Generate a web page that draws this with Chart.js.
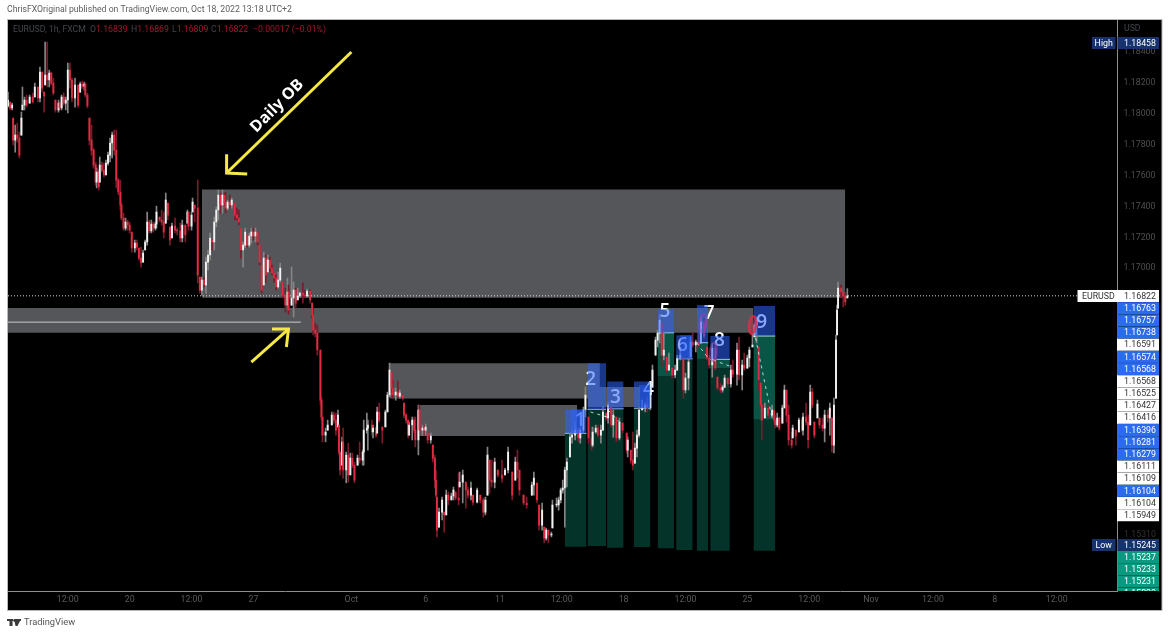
<!DOCTYPE html>
<html><head><meta charset="utf-8">
<style>html,body{margin:0;padding:0;background:#fff;overflow:hidden}canvas{display:block;filter:blur(.3px)}</style>
<script src="https://cdn.jsdelivr.net/npm/chart.js@4"></script>
</head><body><canvas id="c" width="1170" height="636"></canvas>
<script>
// ---- series values: trading-hour index, and prices stored as points above 1.15000
const PRICE_BASE = 1.15;
const hours = [0,2,4,5,7,9,11,13,14,16,18,21,24,26,29,31,33,35,36,38,40,42,44,46,49,50,52,54,56,58,60,62,65,68,70,72,74,75,77,79,81,83,85,86,88,89,91,93,95,97,99,101,103,105,107,
109,110,112,114,116,118,120,123,125,127,129,131,133,135,137,139,141,143,144,147,149,151,153,155,157,159,162,164,167,169,172,174,175,178,179,181,184,186,188,190,192,194,196,198,200,202,204,206,208,210,
211,213,215,217,220,222,224,226,228,230,232,234,236,238,240,242,244,246,248,250,252,254,256,258,260,262,264,266,269,271,272,275,277,279,281,283,286,288,290,293,295,296,298,300,303,304,305,
308,310,314,316,318,320,321,322,324,325,328,330,332,334,336,339,341,344,345,348,349,353,354,357,358,360,363,366,368,370,372,373,376,378,380,383,384,386,388,389,392,394,395,398,399,402,404,405,407,410,412,414,415,
416,418,421,423,425,427,430,432,434,437,438,441,444,446,449,451,455,458,461,463,465,467,469,472,475,479,482,485,489,492,494,496,500,503,508,510,513,515,518,520,522,524,527,528,532,534,536,538,540,
542,545,547,550,553,555,558,560,563,566,567,570,572,575,577,580,582,585,587,590,593,596,600,601,604,606,608,610,612,615,618,620,623,625,628,630,632,634,636,639,641,644,647,649,652,655,657,660,662,664,667,670,672,675,678,680,683,686,688,691,693,695,698,701,703,707,709,712,714,717,719,722,724,726,728,730,731,734,737,741,743,
744,746,748,751,753,755,757,760,761,764,767,770,771,774,776,778,780,782,785,787,790,792,795,797,799,801,803,804,805,808,810,812,814];
const highs = [3139,3075,3068,2971,2926,2939,2881,3010,3172,3107,3120,3120,3133,3197,3172,3301,3269,3139,3462,3462,3282,3269,3230,3088,3088,3075,3120,3133,3107,3327,3327,3230,3230,3185,3204,3210,3204,3197,3133,2971,2926,2777,2687,2648,2635,2719,2687,2680,2700,2751,2842,2881,2894,2894,2583,
2570,2422,2357,2325,2312,2299,2234,2183,2183,2131,2137,2118,2183,2364,2312,2312,2299,2299,2402,2331,2377,2364,2486,2422,2267,2292,2325,2260,2292,2312,2280,2377,2364,2364,2454,2409,2570,1943,1943,1943,2073,2118,2228,2183,2331,2396,2506,2486,2506,2486,
2493,2441,2474,2454,2422,2389,2377,2260,2170,2260,2215,2228,2260,2260,2260,2234,2150,2021,2105,2086,2086,2073,2021,1969,1956,1976,2034,1911,1872,1937,1892,2008,1911,1872,1872,1847,1905,1859,1866,1859,1775,1743,1646,1633,1472,1168,1039,
967,1019,1071,1071,1064,1084,987,812,909,967,812,870,806,806,748,793,877,825,1019,1064,1019,1019,987,974,1103,1129,974,1084,1200,1388,1329,1278,1226,1271,1213,1181,1129,1064,1019,1006,1039,1039,1039,1116,1116,987,987,993,935,935,857,793,696,
521,450,521,424,567,554,547,586,554,677,683,696,618,586,618,534,580,534,515,521,845,760,760,773,696,760,709,845,683,780,825,696,534,521,618,683,612,470,483,327,321,308,295,502,515,521,580,631,715,
773,935,954,999,967,974,1103,1232,1039,974,974,987,987,987,1103,1064,1135,1103,1084,1039,1032,999,935,909,825,942,870,954,1103,1148,1129,1168,1213,1375,1556,1601,1698,1646,1588,1426,1452,1355,1375,1439,1491,1420,1323,1420,1556,1581,1536,1581,1685,1678,1491,1439,1517,1517,1297,1258,1245,1310,1291,1375,1407,1517,1556,1407,1452,1439,1491,1581,1646,1685,1491,1258,1129,1129,1116,1116,1084,
1051,1064,1039,1116,1245,1213,1116,942,987,954,1032,1032,1064,1129,1051,1245,1226,1006,1148,1032,1032,1084,1084,1129,1032,1161,1569,1762,1911,1892,1847,1847,1869];
const lows = [3042,3023,3023,2797,2751,2816,2713,2861,3023,3023,3042,3068,3068,3107,3075,3075,3139,3010,3185,3172,3172,3185,3120,3010,3010,3023,3023,3055,3023,3004,3165,3075,3042,3042,3139,3165,3152,3107,3036,2797,2732,2648,2538,2519,2506,2557,2622,2590,2603,2667,2687,2713,2732,2519,2474,
2377,2312,2247,2247,2247,2228,2105,2105,2118,2053,2008,2040,2118,2150,2228,2228,2234,2247,2260,2299,2280,2196,2292,2312,2150,2196,2228,2215,2170,2170,2170,2292,2247,2247,2364,2299,1905,1840,1827,1879,1840,1989,2053,2118,2118,2267,2312,2357,2357,2409,
2357,2377,2389,2389,2312,2312,2280,2066,2008,2131,2137,2137,2163,2183,2170,2150,2021,1840,1892,1911,1976,1976,1956,1911,1859,1872,1911,1808,1717,1743,1704,1762,1685,1743,1795,1814,1775,1808,1814,1775,1678,1569,1556,1439,1116,1019,877,
877,954,987,999,922,974,793,664,728,644,612,618,664,709,612,728,741,728,728,935,825,922,903,909,935,1006,870,974,1071,1168,1200,1161,1148,1161,1161,1148,1032,999,903,922,890,935,845,793,922,922,922,922,870,870,748,580,521,
263,327,373,295,405,470,502,502,502,470,586,483,450,515,502,470,483,483,392,405,534,547,586,580,651,618,664,677,502,631,644,534,470,450,534,534,483,308,308,224,243,224,263,321,457,437,483,547,327,
586,780,870,890,877,870,935,1039,870,825,845,935,909,870,954,1019,999,974,909,877,890,935,806,780,741,696,741,780,909,1084,1071,1071,1084,1232,1439,1491,1517,1362,1407,1323,1342,1291,1291,1342,1407,1161,1194,1213,1426,1491,1459,1491,1517,1549,1407,1355,1297,1342,1213,1194,1200,1226,1232,1232,1297,1245,1278,1213,1342,1355,1362,1491,1556,1517,1213,1103,890,1032,1032,1032,999,
967,974,954,999,1097,1006,857,838,903,857,942,942,922,987,838,987,1097,903,1032,967,948,877,1006,922,812,806,1161,1569,1743,1808,1750,1762,1809];
const closes = [3088,3036,3055,2829,2861,2842,2732,2971,3055,3088,3055,3107,3075,3172,3101,3269,3165,3114,3249,3217,3262,3197,3133,3023,3068,3036,3107,3068,3088,3282,3217,3101,3185,3055,3191,3178,3191,3120,3049,2829,2764,2667,2557,2622,2526,2667,2635,2603,2680,2732,2810,2861,2764,2570,2493,
2409,2325,2260,2299,2280,2247,2131,2163,2137,2066,2034,2099,2170,2299,2241,2286,2260,2286,2364,2312,2299,2234,2441,2344,2183,2273,2247,2241,2196,2280,2215,2364,2273,2344,2428,2389,1956,1859,1924,1892,2040,2086,2196,2170,2299,2377,2474,2409,2474,2422,
2389,2428,2409,2441,2344,2325,2299,2118,2150,2234,2150,2209,2234,2209,2234,2170,2040,1859,2066,1956,2053,2002,1969,1937,1879,1924,2002,1827,1762,1847,1730,1808,1859,1775,1821,1840,1827,1821,1853,1795,1698,1601,1581,1472,1148,1039,922,
942,987,1051,1019,954,1051,812,696,877,696,793,664,773,728,631,773,760,812,954,967,987,942,967,922,1071,1019,954,1071,1181,1342,1226,1181,1200,1174,1194,1161,1051,1019,922,987,1019,954,890,1084,954,967,954,974,890,916,773,631,534,
308,424,502,405,534,502,528,567,515,502,618,664,567,534,580,489,567,502,424,502,793,631,618,748,664,644,696,812,534,748,696,567,483,470,599,644,502,340,437,256,308,276,282,470,470,502,567,580,696,
748,909,922,954,903,954,1084,1181,903,857,942,967,922,954,1071,1032,1116,987,1051,903,1006,954,825,890,760,728,838,922,1084,1097,1116,1097,1194,1342,1536,1581,1666,1439,1472,1342,1375,1310,1342,1420,1439,1213,1291,1394,1523,1504,1523,1504,1653,1562,1420,1375,1485,1355,1226,1213,1232,1291,1252,1342,1316,1472,1310,1375,1355,1420,1472,1504,1633,1666,1278,1116,1019,1097,1051,1084,1019,
987,1032,967,1097,1213,1051,890,857,967,916,1019,954,1039,1006,890,1200,1116,922,1122,987,967,1051,1032,1097,857,1116,1536,1730,1872,1847,1821,1782,1822];

// ---- axes
const priceTicks = [1.184,1.182,1.18,1.178,1.176,1.174,1.172,1.17];
const timeTickHours = [58,118,178,238,333,405,477,537,597,657,717,777,837,897,957,1017];
const timeTickLabels = ['12:00','20','12:00','27','Oct','6','11','12:00','18','12:00','25','12:00','Nov','12:00','8','12:00'];
const lastPrice = 1.16822;

// ---- grey supply zones
const zoneStart = [188,0,370,562,398];
const zoneEnd   = [812,723,574,613,552];
const zoneTop   = [1.1751,1.16743,1.16386,1.16232,1.16116];
const zoneLow   = [1.1681,1.16583,1.16159,1.16103,1.15916];
const markerLine = {hours:[0,284], price:1.16652};

// ---- green columns and blue boxes sitting on them
const colStart = [540,562,581,607,630,648,668,681,723];
const colEnd   = [561,580,597,623,646,664,679,700,744];
const colTop   = [1.15933,1.16088,1.16092,1.16095,1.16583,1.16415,1.16519,1.16411,1.16562];
const colLight = [1.15933,1.16088,1.16092,1.16095,1.16304,1.16415,1.16415,1.16355,1.16024];
const colBottom= [1.152,1.15205,1.15194,1.15198,1.1519,1.15179,1.15174,1.15174,1.15174];
const boxTop   = [1.16088,1.16387,1.16269,1.16269,1.16737,1.16567,1.16762,1.16562,1.16756];
const innerStart=[546,612,652], innerEnd=[558,623,663], innerTop=[1.16088,1.16245,1.16567], innerLow=[1.15933,1.16095,1.16415];
const countLabels = ['1','2','3','4','5','6','7','8','9'];
const countHours  = [555,565,589,621,637,654,680,690,731];
const countPrices = [1.16013,1.16281,1.16166,1.16213,1.16717,1.16498,1.16704,1.1653,1.1665];

// ---- drawn annotations
const arrowOneHours=[333,212], arrowOnePrices=[1.18398,1.17616];
const headOneHours=[212,212,232], headOnePrices=[1.17738,1.17616,1.17609];
const arrowTwoHours=[236,272], arrowTwoPrices=[1.16394,1.16607];
const headTwoHours=[256,272,270], headTwoPrices=[1.16607,1.16607,1.16491];
const dashHours=[[725,741],[565,581],[582,594],[668,679],[684,702]];
const dashPrices=[[1.16549,1.16032],[1.16071,1.16039],[1.16084,1.15999],[1.16517,1.1642],[1.16407,1.16362]];
const ringHours=[674,684,722], ringPrices=[1.16646,1.16459,1.16633];

// ---- price-scale tags (top to bottom)
const tagLabels=['1.16763','1.16757','1.16738','1.16591','1.16574','1.16568','1.16568','1.16525','1.16427','1.16416','1.16396','1.16281','1.16279','1.16111','1.16109','1.16104','1.16104','1.15949'];
const tagKinds =['b','b','b','w','b','b','w','w','w','w','b','b','b','w','w','b','w','w'];
const lowerTagLabels=['1.15237','1.15233','1.15231','1.15230'];

const pts = v => PRICE_BASE + v/1e5;
const uiFont = 'Roboto,"Open Sans",sans-serif';
const labelFont = '"Open Sans","DejaVu Sans",sans-serif';
const UP='#f2f2f2', DOWN='#e22a42', UPW='#858585', DOWNW='#7d1a2c';
const opens = closes.map((c,i)=>{const p=i?closes[i-1]:3050;return Math.min(highs[i],Math.max(lows[i],p));});
const isUp = i => closes[i]>=opens[i];

function band(label,h0,h1,top,low,color,order,edge){
  return {type:'line',label,order,data:[{x:h0,y:top},{x:h1,y:top}],fill:{value:low},backgroundColor:color,
    borderColor:edge||'transparent',borderWidth:edge?1:0,pointRadius:0,tension:0};
}
function stroke(label,xs,ys,color,width,order,dash){
  return {type:'line',label,order,data:xs.map((x,i)=>({x,y:ys[i]})),fill:false,borderColor:color,borderWidth:width,
    borderDash:dash||[],pointRadius:0,tension:0,borderCapStyle:'butt',borderJoinStyle:'miter'};
}
const datasets=[];
zoneStart.forEach((s,i)=>datasets.push(band('zone'+i,s,zoneEnd[i],zoneTop[i],zoneLow[i],'#55565a',60)));
datasets.push(stroke('marker',markerLine.hours,[markerLine.price,markerLine.price],'#c9c9c9',1,58));
colStart.forEach((s,i)=>{
  datasets.push(band('col'+i,s,colEnd[i],colTop[i],colBottom[i],'#04332a',50,'rgba(205,235,225,.85)'));
  if(colLight[i]!==colTop[i]) datasets.push(band('colb'+i,s,colEnd[i],colTop[i],colLight[i],'#0a5646',49,'rgba(205,235,225,.85)'));
});
datasets.push(stroke('last',[0,1038],[lastPrice,lastPrice],'#d8d8d8',1,45,[1,2]));
datasets.push({type:'bar',label:'wicks',order:30,grouped:false,barThickness:1,data:hours.map((h,i)=>({x:h,y:[pts(lows[i]),pts(highs[i])]})),
  backgroundColor:hours.map((h,i)=>isUp(i)?UPW:DOWNW),borderWidth:0});
datasets.push({type:'bar',label:'bodies',order:29,grouped:false,barThickness:1.25,minBarLength:1,data:hours.map((h,i)=>({x:h,y:[pts(opens[i]),pts(closes[i])]})),
  backgroundColor:hours.map((h,i)=>isUp(i)?UP:DOWN),borderWidth:0});
colStart.forEach((s,i)=>datasets.push(band('box'+i,s,colEnd[i],boxTop[i],colTop[i],'rgba(41,98,255,.55)',20)));
innerStart.forEach((s,i)=>datasets.push(band('inner'+i,s,innerEnd[i],innerTop[i],innerLow[i],'rgba(41,98,255,.5)',19)));
dashHours.forEach((d,i)=>datasets.push(stroke('dash'+i,d,dashPrices[i],'rgba(205,240,228,.85)',1,10,[3,4])));
const YEL='#f6e845';
datasets.push(stroke('arrow1',arrowOneHours,arrowOnePrices,YEL,3,5));
datasets.push(stroke('head1',headOneHours,headOnePrices,YEL,3,5));
datasets.push(stroke('arrow2',arrowTwoHours,arrowTwoPrices,YEL,3,5));
datasets.push(stroke('head2',headTwoHours,headTwoPrices,YEL,3,5));

function tag(ctx,x0,x1,y,bg,fg,text,align,tx,h){
  ctx.fillStyle=bg;ctx.fillRect(x0,y-(h||12)/2,x1-x0,h||12);
  ctx.fillStyle=fg;ctx.textAlign=align||'left';ctx.textBaseline='middle';ctx.fillText(text,tx,y+.5);
}
const overlay={id:'overlay',
  beforeDraw(ch){const c=ch.ctx;c.save();c.fillStyle='#fff';c.fillRect(0,0,1170,636);c.fillStyle='#000';c.fillRect(7.5,19,1154.5,591);
    c.strokeStyle='#b9b9b9';c.lineWidth=1;c.strokeRect(7.5,19.5,1154.5,591);c.restore();},
  afterDatasetDraw(ch,a){
    if(ch.data.datasets[a.index].label!=='bodies')return;
    const c=ch.ctx,sx=ch.scales.x,sy=ch.scales.y;c.save();c.font='600 19px '+labelFont;c.fillStyle='#fff';c.textAlign='center';c.textBaseline='middle';
    countLabels.forEach((t,i)=>c.fillText(t,sx.getPixelForValue(countHours[i]),sy.getPixelForValue(countPrices[i])));c.restore();
  },
  afterDraw(ch){
    const c=ch.ctx,sx=ch.scales.x,sy=ch.scales.y;c.save();
    // rings
    c.lineWidth=2;
    ringHours.forEach((h,i)=>{const red=i===2;c.strokeStyle=red?'rgba(235,40,70,.85)':'rgba(170,60,160,.5)';c.beginPath();
      c.ellipse(sx.getPixelForValue(h),sy.getPixelForValue(ringPrices[i]),3.5,9,.1,0,Math.PI*2);c.stroke();
      if(red){c.fillStyle='rgba(235,40,70,.4)';c.fill();}});
    // Daily OB
    c.save();c.translate(sx.getPixelForValue(261),sy.getPixelForValue(1.18050));c.rotate(-Math.PI/4);
    c.font='bold 16px '+labelFont;c.fillStyle='#fff';c.textAlign='center';c.textBaseline='middle';c.fillText('Daily OB',0,0);c.restore();
    // header texts
    c.textBaseline='middle';c.textAlign='left';
    c.font='8.7px '+uiFont;c.fillStyle='#5d5d5d';
    c.fillText('ChrisFXOriginal published on TradingView.com, Oct 18, 2022 13:18 UTC+2',7,10);
    c.fillStyle='#43464d';c.fillText('EURUSD, 1h, FXCM',13,29.5);
    const rd='#a3182b',lg='#43464d';
    [['O',90,'1.16839'],['H',131,'1.16869'],['L',172,'1.16809'],['C',211,'1.16822']].forEach(([k,x,v])=>{
      c.fillStyle=lg;c.fillText(k,x,29.5);const w=c.measureText(k).width;c.fillStyle=rd;c.fillText(v,x+w,29.5);});
    c.fillStyle=rd;c.fillText('\u22120.00017 (\u22120.01%)',253,29.5);
    c.fillStyle='#43464d';c.fillText('USD',1124,29);
    // TradingView mark + text
    c.fillStyle='#555';c.font='9.3px '+uiFont;c.fillText('TradingView',24,623);
    c.fillStyle='#3a3a3a';c.fillRect(7,619,6,2);c.fillRect(9.5,619,3,7);c.fillRect(17,619,4,2);
    c.beginPath();c.moveTo(14,619);c.lineTo(21,619);c.lineTo(17.5,626);c.lineTo(15.5,626);c.closePath();c.fill();
    c.beginPath();c.arc(14.5,620.5,1.3,0,7);c.fill();
    // price tags
    c.font='8.8px '+uiFont;
    const tx=1124,rowH=12.18;
    tag(c,1077.5,1159,296,'#fff','#333','EURUSD','left',1082);
    c.fillStyle='#333';c.fillText(lastPrice.toFixed(5),tx,296.5);
    tagLabels.forEach((t,i)=>{const b=tagKinds[i]==='b';tag(c,1117,1159,296+(i+1)*rowH,b?'#2b6bf0':'#fff',b?'#fff':'#333',t,'left',tx);});
    c.fillStyle='#333';c.fillText('1.15310',tx,534.5);
    tag(c,1117.5,1159,545,'#16336e','#fff','1.15245','left',tx);
    tag(c,1092,1115.5,545,'#16336e','#fff','Low','center',1103.7);
    tag(c,1117.5,1159,43,'#16336e','#fff','1.18458','left',tx);
    tag(c,1092,1115.5,43,'#16336e','#fff','High','center',1103.7);
    c.save();c.beginPath();c.rect(1110,550,60,41);c.clip();
    lowerTagLabels.forEach((t,i)=>tag(c,1117.5,1159,557+i*12.18,'#089981','#fff',t,'left',tx));c.restore();
    c.restore();
  }};

new Chart(document.getElementById('c'),{
  data:{datasets},
  plugins:[overlay],
  options:{responsive:false,animation:false,devicePixelRatio:1,
    layout:{padding:{left:8,top:20,right:8,bottom:26}},
    plugins:{legend:{display:false},tooltip:{enabled:false}},
    scales:{
      x:{type:'linear',min:0,max:1076,offset:false,
        afterBuildTicks(a){a.ticks=timeTickHours.map(v=>({value:v}));},
        afterFit(a){a.height=19;},
        grid:{display:false,drawTicks:false},border:{display:true,color:'#8f8f8f'},
        ticks:{autoSkip:false,maxRotation:0,padding:4,color:'#5a5a5a',font:{size:8.8,family:uiFont},
          callback(v){const i=timeTickHours.indexOf(v);return i<0?'':timeTickLabels[i];}}},
      y:{type:'linear',position:'right',min:1.14914,max:1.18605,
        afterBuildTicks(a){a.ticks=priceTicks.map(v=>({value:v}));},
        afterFit(a){a.width=44.5;},
        grid:{display:false,drawTicks:false},border:{display:true,color:'#8f8f8f'},
        ticks:{autoSkip:false,padding:6,color:'#4f4f4f',font:{size:8.8,family:uiFont},callback(v){return v.toFixed(5);}}}
    }}
});
</script></body></html>
